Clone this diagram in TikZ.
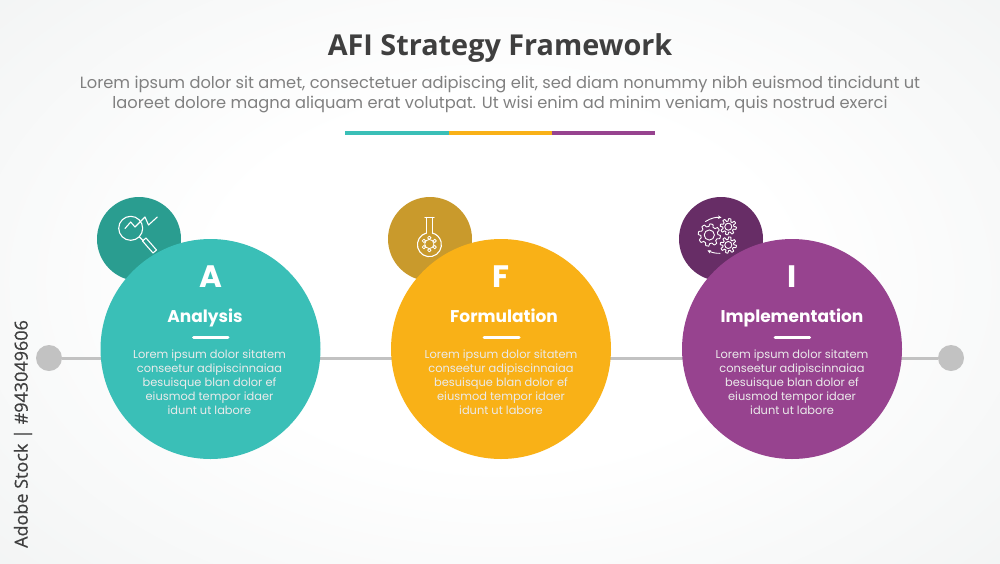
\documentclass[tikz,border=0pt]{standalone}
\usepackage{fontspec}
\setmainfont{Poppins}
\newfontfamily\titlefont{Open Sans}
\newfontfamily\stockfont[FakeBold=0.5]{Open Sans}
\usetikzlibrary{arrows.meta}
\definecolor{teal1}{HTML}{3ABFB7}
\definecolor{teal2}{HTML}{2A9D90}
\definecolor{amber1}{HTML}{F9B117}
\definecolor{amber2}{HTML}{C99A2C}
\definecolor{plum1}{HTML}{97438F}
\definecolor{plum2}{HTML}{672D66}
\definecolor{titlegray}{HTML}{3F3F3F}
\definecolor{subgray}{HTML}{808080}
\definecolor{linegray}{HTML}{C2C2C2}
\definecolor{bgedge}{HTML}{F0F2F2}
\pgfdeclareradialshading{softbg}{\pgfpoint{0bp}{0bp}}{color(0bp)=(white); color(12bp)=(white); color(32bp)=(bgedge); color(50bp)=(bgedge)}
\tikzset{
  x=1pt,y=-1pt,
  bigc/.style={circle,minimum size=220pt,inner sep=0pt,fill=#1},
  smallc/.style={circle,minimum size=84pt,inner sep=0pt,fill=#1},
  enddot/.style={circle,minimum size=26pt,inner sep=0pt,fill=linegray},
  letter/.style={text=white,font=\fontsize{31}{31}\selectfont\bfseries,inner sep=0pt},
  heading/.style={text=white,anchor=base,font=\fontsize{17}{17}\selectfont\bfseries,inner sep=0pt},
  body/.style={text=white!92!black,font=\fontsize{11.4}{14.1}\selectfont,align=center,inner sep=0pt},
  barline/.style={line width=3pt,white,line cap=round},
  icon/.style={draw=white,line width=1.1pt,line join=round,line cap=round},
}
\newcommand{\gearpath}[3]{% cx, cy, R
  \draw[icon,line width=.9pt] plot[domain=0:360,samples=121] ({#1+(#3+1.3*max(-1,min(1,2.5*sin(8*\x))))*cos(\x)},{#2+(#3+1.3*max(-1,min(1,2.5*sin(8*\x))))*sin(\x)}) -- cycle;
  \draw[icon,line width=.9pt] (#1,#2) circle ({0.52*#3});
}
\begin{document}
\begin{tikzpicture}
\useasboundingbox (0,0) rectangle (1000,563);
\begin{scope}
\clip (0,0) rectangle (1000,563);
\shade[shading=softbg] (-100,-100) rectangle (1100,663);
\end{scope}

% title block
\node[inner sep=0pt,text=titlegray,font=\titlefont\fontsize{28.8}{28.8}\selectfont\bfseries] (title) at (500,48) {AFI Strategy Framework};
\node[inner sep=0pt,text=subgray,align=center,font=\fontsize{16.26}{20}\selectfont] (sub) at (500,95)
  {Lorem ipsum dolor sit amet, consectetuer adipiscing elit, sed diam nonummy nibh euismod tincidunt ut\\
   laoreet dolore magna aliquam erat volutpat. Ut wisi enim ad minim veniam, quis nostrud exerci};
\fill[teal1] (345,131) rectangle (448.5,135);
\fill[amber1] (448.5,131) rectangle (552,135);
\fill[plum1] (552,131) rectangle (655,135);

% timeline
\node[enddot] (start) at (49,358) {};
\node[enddot] (end) at (951,358) {};
\draw[linegray,line width=3pt] (start) -- (end);

% small circles
\node[smallc=teal2] (sa) at (139,239) {};
\node[smallc=amber2] (sf) at (430,239) {};
\node[smallc=plum2] (si) at (721,239) {};

% big circles
\node[bigc=teal1] (ba) at (210.5,349) {};
\node[bigc=amber1] (bf) at (501,349) {};
\node[bigc=plum1] (bi) at (792,349) {};

% icon: analysis
\draw[icon] (130.7,228.3) circle (12);
\draw[icon] (125,228.5) -- (130.7,222) -- (135,227) -- (145,217) -- (148.5,225) -- (157.3,217);
\draw[icon] (139.5,237) -- (143.5,241);
\draw[icon] (142.5,241) -- (146,238) -- (156.5,250) -- (153,253) -- cycle;

% icon: flask
\draw[icon] (425,217.3) -- (434,217.3);
\draw[icon] (426.5,217.3) -- (426.5,233) (432.3,217.3) -- (432.3,233);
\draw[icon] (426.5,233) arc[start angle=-104,end angle=-436,radius=12];
\foreach \a in {30,90,...,330}{
  \draw[icon,line width=.8pt] ({429.3+6.2*cos(\a)},{244+6.2*sin(\a)}) circle (1.7);
}
\draw[icon,line width=.8pt] (429.3,244) circle (4.6);

% icon: gears
\gearpath{709.3}{235}{9.8}
\gearpath{728.3}{226.7}{6.8}
\gearpath{728.3}{245}{6.8}
\draw[icon,-{Stealth[length=3.5pt,width=3.5pt]},line width=.9pt] (705.5,221.5) .. controls (711,218) and (716,217) .. (721.5,217.5);
\draw[icon,-{Stealth[length=3.5pt,width=3.5pt]},line width=.9pt] (720,253.3) .. controls (716,253.5) and (712,252.5) .. (707.5,250.5);

% analysis
\node[letter] (la) at (211,277) {A};
\node[heading] (ha) at (205,322) {Analysis};
\draw[barline] (193.5,337) -- (228,337);
\node[body] (ta) at (209.5,382) {Lorem ipsum dolor sitatem\\conseetur adipiscinnaiaa\\besuisque blan dolor ef\\eiusmod tempor idaer\\idunt ut labore};

% formulation
\node[letter] (lf) at (501,277) {F};
\node[heading] (hf) at (504,322) {Formulation};
\draw[barline] (484,337) -- (519,337);
\node[body] (tf) at (501,382) {Lorem ipsum dolor sitatem\\conseetur adipiscinnaiaa\\besuisque blan dolor ef\\eiusmod tempor idaer\\idunt ut labore};

% implementation
\node[letter] (li) at (792,277) {I};
\node[heading] (hi) at (792,322) {Implementation};
\draw[barline] (775,337) -- (809.5,337);
\node[body] (ti) at (792,382) {Lorem ipsum dolor sitatem\\conseetur adipiscinnaiaa\\besuisque blan dolor ef\\eiusmod tempor idaer\\idunt ut labore};

% stock line
\node[rotate=90,inner sep=0pt,text=titlegray,font=\stockfont\fontsize{18}{18}\selectfont] (stock) at (23,434) {Adobe Stock | \#943049606};
\end{tikzpicture}
\end{document}
